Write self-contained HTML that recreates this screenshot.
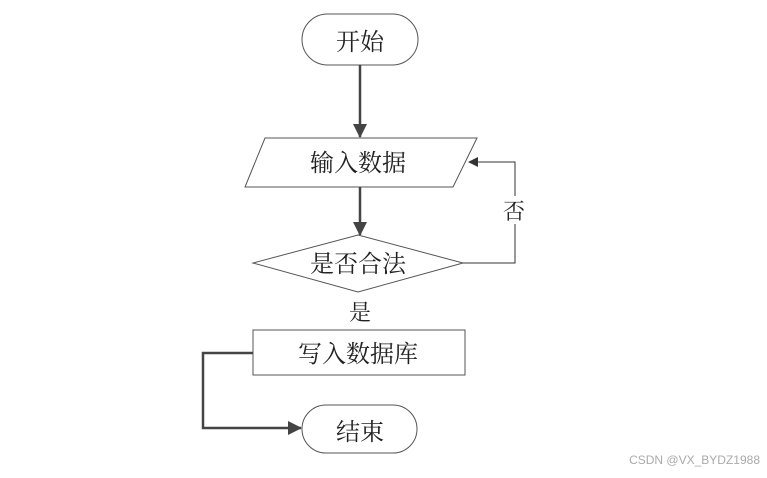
<!DOCTYPE html>
<html><head><meta charset="utf-8"><style>
html,body{margin:0;padding:0;background:#fff;}
svg text{font-family:"Liberation Serif","Noto Serif CJK SC",serif;fill:#222;}
</style></head><body>
<svg width="767" height="473" viewBox="0 0 767 473" xmlns="http://www.w3.org/2000/svg">
<defs><marker id="a" markerWidth="10" markerHeight="10" refX="9" refY="5" orient="auto" markerUnits="userSpaceOnUse"><path d="M0,0 L10,5 L0,10 z" fill="#333"/></marker>
<marker id="b" markerWidth="14" markerHeight="14" refX="13" refY="7" orient="auto" markerUnits="userSpaceOnUse"><path d="M0,0 L14,7 L0,14 z" fill="#444"/></marker></defs>
<rect x="302" y="14" width="116" height="51" rx="25.5" fill="#fff" stroke="#555" stroke-width="1"/>
<text x="360" y="50" font-size="24" text-anchor="middle">开始</text>
<line x1="360" y1="65" x2="360" y2="137" stroke="#444" stroke-width="2.5" marker-end="url(#b)"/>
<polygon points="265,138 477,138 453,187 245,187" fill="#fff" stroke="#555"/>
<text x="358" y="171" font-size="24" text-anchor="middle">输入数据</text>
<line x1="360" y1="187" x2="360" y2="235" stroke="#444" stroke-width="2.5" marker-end="url(#b)"/>
<polygon points="358,235 463,263 358,292 253,263" fill="#fff" stroke="#555"/>
<text x="358" y="272" font-size="24" text-anchor="middle">是否合法</text>
<polyline points="463,263 515,263 515,162 469,162" fill="none" stroke="#333" stroke-width="1" marker-end="url(#a)"/>
<rect x="500" y="196" width="28" height="28" fill="#fff"/>
<text x="514" y="219" font-size="22" text-anchor="middle">否</text>
<text x="360" y="320" font-size="22" text-anchor="middle">是</text>
<rect x="253" y="330" width="212" height="45" fill="#fff" stroke="#555"/>
<text x="358" y="362" font-size="24" text-anchor="middle">写入数据库</text>
<polyline points="253,353 203,353 203,428 301,428" fill="none" stroke="#444" stroke-width="2.5" marker-end="url(#b)"/>
<rect x="302" y="405" width="115" height="48" rx="24" fill="#fff" stroke="#555"/>
<text x="360" y="440" font-size="24" text-anchor="middle">结束</text>
<text x="760" y="464" font-size="12" text-anchor="end" style="font-family:'Liberation Sans',sans-serif;fill:#aaa">CSDN @VX_BYDZ1988</text>
</svg>
</body></html>
